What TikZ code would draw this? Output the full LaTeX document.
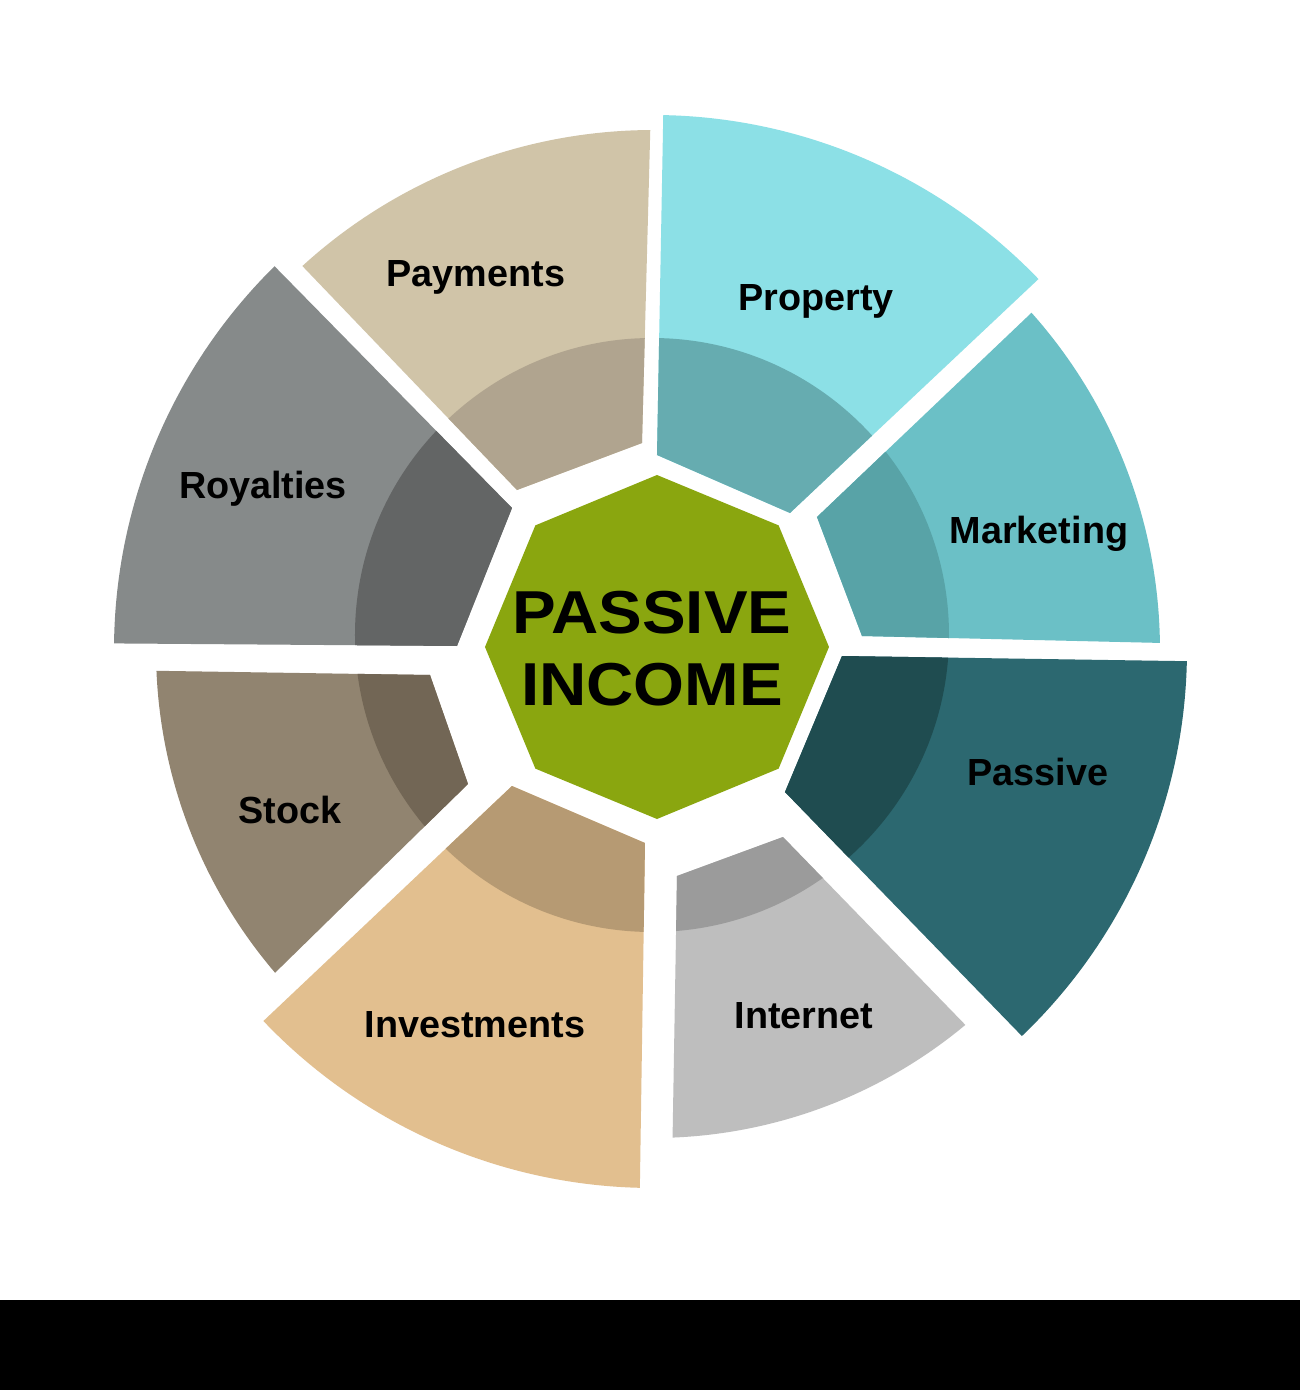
\documentclass[tikz,border=0pt]{standalone}
\usepackage{fontspec}
\setmainfont{Liberation Sans}
\newfontfamily\hubfont[FakeStretch=1.08]{Liberation Sans}
\definecolor{propLight}{HTML}{8CE0E6}
\definecolor{propDark}{HTML}{66ACB0}
\definecolor{mktLight}{HTML}{6BC0C6}
\definecolor{mktDark}{HTML}{58A3A7}
\definecolor{pasLight}{HTML}{2C6870}
\definecolor{pasDark}{HTML}{1F4C50}
\definecolor{netLight}{HTML}{BEBEBE}
\definecolor{netDark}{HTML}{9B9B9B}
\definecolor{invLight}{HTML}{E2BF8F}
\definecolor{invDark}{HTML}{B69A73}
\definecolor{stkLight}{HTML}{918470}
\definecolor{stkDark}{HTML}{726655}
\definecolor{royLight}{HTML}{868A8A}
\definecolor{royDark}{HTML}{636565}
\definecolor{payLight}{HTML}{D0C4A8}
\definecolor{payDark}{HTML}{B0A48F}
\definecolor{hubGreen}{HTML}{8AA60F}
\begin{document}
\begin{tikzpicture}[
        x=0.02cm,
        y=0.02cm,
        font=\bfseries
    ]
    \tikzset{
        seglabel/.style = {anchor=base, inner sep=0pt, text=black, font=\fontsize{21.5}{26}\selectfont\bfseries},
        hubtext/.style = {align=center, inner sep=0pt, text=black, font=\hubfont\fontsize{34.5}{41}\selectfont\bfseries},
        hubfill/.style = {fill=hubGreen},
    }
    \fill[white] (-653,-740) rectangle (647,650);
    \useasboundingbox (-653,-740) rectangle (647,650);
    \coordinate (ring) at (-1,15);
    %
    % Property
    \begin{scope}
        \clip (137,137) -- (43.9:535) arc[start angle=43.9, end angle=88.9, radius=535] -- (4,195) -- cycle;
        \fill[propLight] (-653,-740) rectangle (647,650);
        \fill[propDark] (ring) circle (297);
    \end{scope}
    % Marketing
    \begin{scope}
        \clip (209,14) -- (0.8:507) arc[start angle=0.8, end angle=41.7, radius=507] -- (164,133) -- cycle;
        \fill[mktLight] (-653,-740) rectangle (647,650);
        \fill[mktDark] (ring) circle (297);
    \end{scope}
    % Passive
    \begin{scope}
        \clip (132,-142) -- (-46.3:534) arc[start angle=-46.3, end angle=-1.2, radius=534] -- (189,-6) -- cycle;
        \fill[pasLight] (-653,-740) rectangle (647,650);
        \fill[pasDark] (ring) circle (297);
    \end{scope}
    % Internet
    \begin{scope}
        \clip (24,-226) -- (-87.7:488) arc[start angle=-87.7, end angle=-50.2, radius=488] -- (130,-187) -- cycle;
        \fill[netLight] (-653,-740) rectangle (647,650);
        \fill[netDark] (ring) circle (297);
    \end{scope}
    % Investments
    \begin{scope}
        \clip (-141,-136) -- (-136.4:538) arc[start angle=-136.4, end angle=-91.4, radius=538] -- (-8,-193) -- cycle;
        \fill[invLight] (-653,-740) rectangle (647,650);
        \fill[invDark] (ring) circle (297);
    \end{scope}
    % Stock
    \begin{scope}
        \clip (-223,-25) -- (182.4:497) arc[start angle=182.4, end angle=220.5, radius=497] -- (-185,-134) -- cycle;
        \fill[stkLight] (-653,-740) rectangle (647,650);
        \fill[stkDark] (ring) circle (297);
    \end{scope}
    % Royalties
    \begin{scope}
        \clip (-141,142) -- (134.6:539) arc[start angle=134.6, end angle=179.3, radius=539] -- (-196,4) -- cycle;
        \fill[royLight] (-653,-740) rectangle (647,650);
        \fill[royDark] (ring) circle (297);
    \end{scope}
    % Payments
    \begin{scope}
        \clip (-11,207) -- (90.3:520) arc[start angle=90.3, end angle=132.4, radius=520] -- (-136,160) -- cycle;
        \fill[payLight] (-653,-740) rectangle (647,650);
        \fill[payDark] (ring) circle (297);
    \end{scope}
    %
    \fill[hubfill, shift={(4,3)}] (90:172) -- (135:172) -- (180:172) -- (225:172) -- (270:172) -- (315:172) -- (0:172) -- (45:172) -- cycle;
    \node[hubtext] (hub) at (-1,1) {PASSIVE\\INCOME};
    %
    \node[seglabel] (payments) at (-177,363) {Payments};
    \node[seglabel] (property) at (163,339) {Property};
    \node[seglabel] (marketing) at (386,107) {Marketing};
    \node[seglabel] (passive) at (385,-135) {Passive};
    \node[seglabel] (internet) at (151,-378) {Internet};
    \node[seglabel] (investments) at (-178,-387) {Investments};
    \node[seglabel] (stock) at (-363,-173) {Stock};
    \node[seglabel] (royalties) at (-390,152) {Royalties};
    %
    \fill[black] (-653,-740) rectangle (647,-650);
\end{tikzpicture}
\end{document}
